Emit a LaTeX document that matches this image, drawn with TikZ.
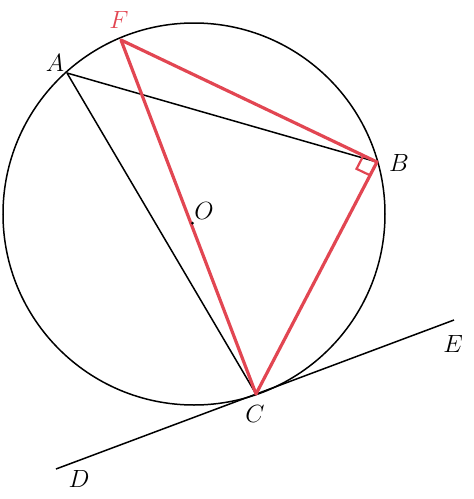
\documentclass[tikz,border=0pt]{standalone}
\usetikzlibrary{calc}
\definecolor{myred}{RGB}{226,70,82}
\begin{document}
\begin{tikzpicture}[x=1pt,y=-1pt,
  lbl/.style={font=\fontsize{25}{25}\selectfont, inner sep=0pt},
  blk/.style={line width=1.5pt, black},
  redl/.style={line width=3.2pt, myred, line join=round}]
\useasboundingbox (0,0) rectangle (474,499);
\coordinate (Oc) at (194,214);
\coordinate (O) at (192.5,223);
\coordinate (A) at (67,73);
\coordinate (F) at (121,40);
\coordinate (B) at (377,162);
\coordinate (C) at (256,394);
\coordinate (D) at (56,469);
\coordinate (E) at (454,320);
\draw[blk] (Oc) circle[radius=191];
\draw[blk] (D) -- (E);
\draw[blk] (A) -- (B);
\draw[blk] (A) -- (C);
\draw[redl] (F) -- (B) -- (C) -- cycle;
\draw[line width=2.2pt, myred] ($(B)!15pt!(F)$) -- ($($(B)!15pt!(F)$)+($(B)!15pt!(C)$)-(B)$) -- ($(B)!15pt!(C)$);
\fill (O) circle[radius=1.5];
\node[lbl, text=myred] (lF) at (119,20) {$F$};
\node[lbl] (lA) at (55,63) {$A$};
\node[lbl] (lB) at (399,163) {$B$};
\node[lbl] (lO) at (204,211) {$O$};
\node[lbl] (lC) at (255,414) {$C$};
\node[lbl] (lD) at (79,479) {$D$};
\node[lbl] (lE) at (453,344) {$E$};
\end{tikzpicture}
\end{document}
